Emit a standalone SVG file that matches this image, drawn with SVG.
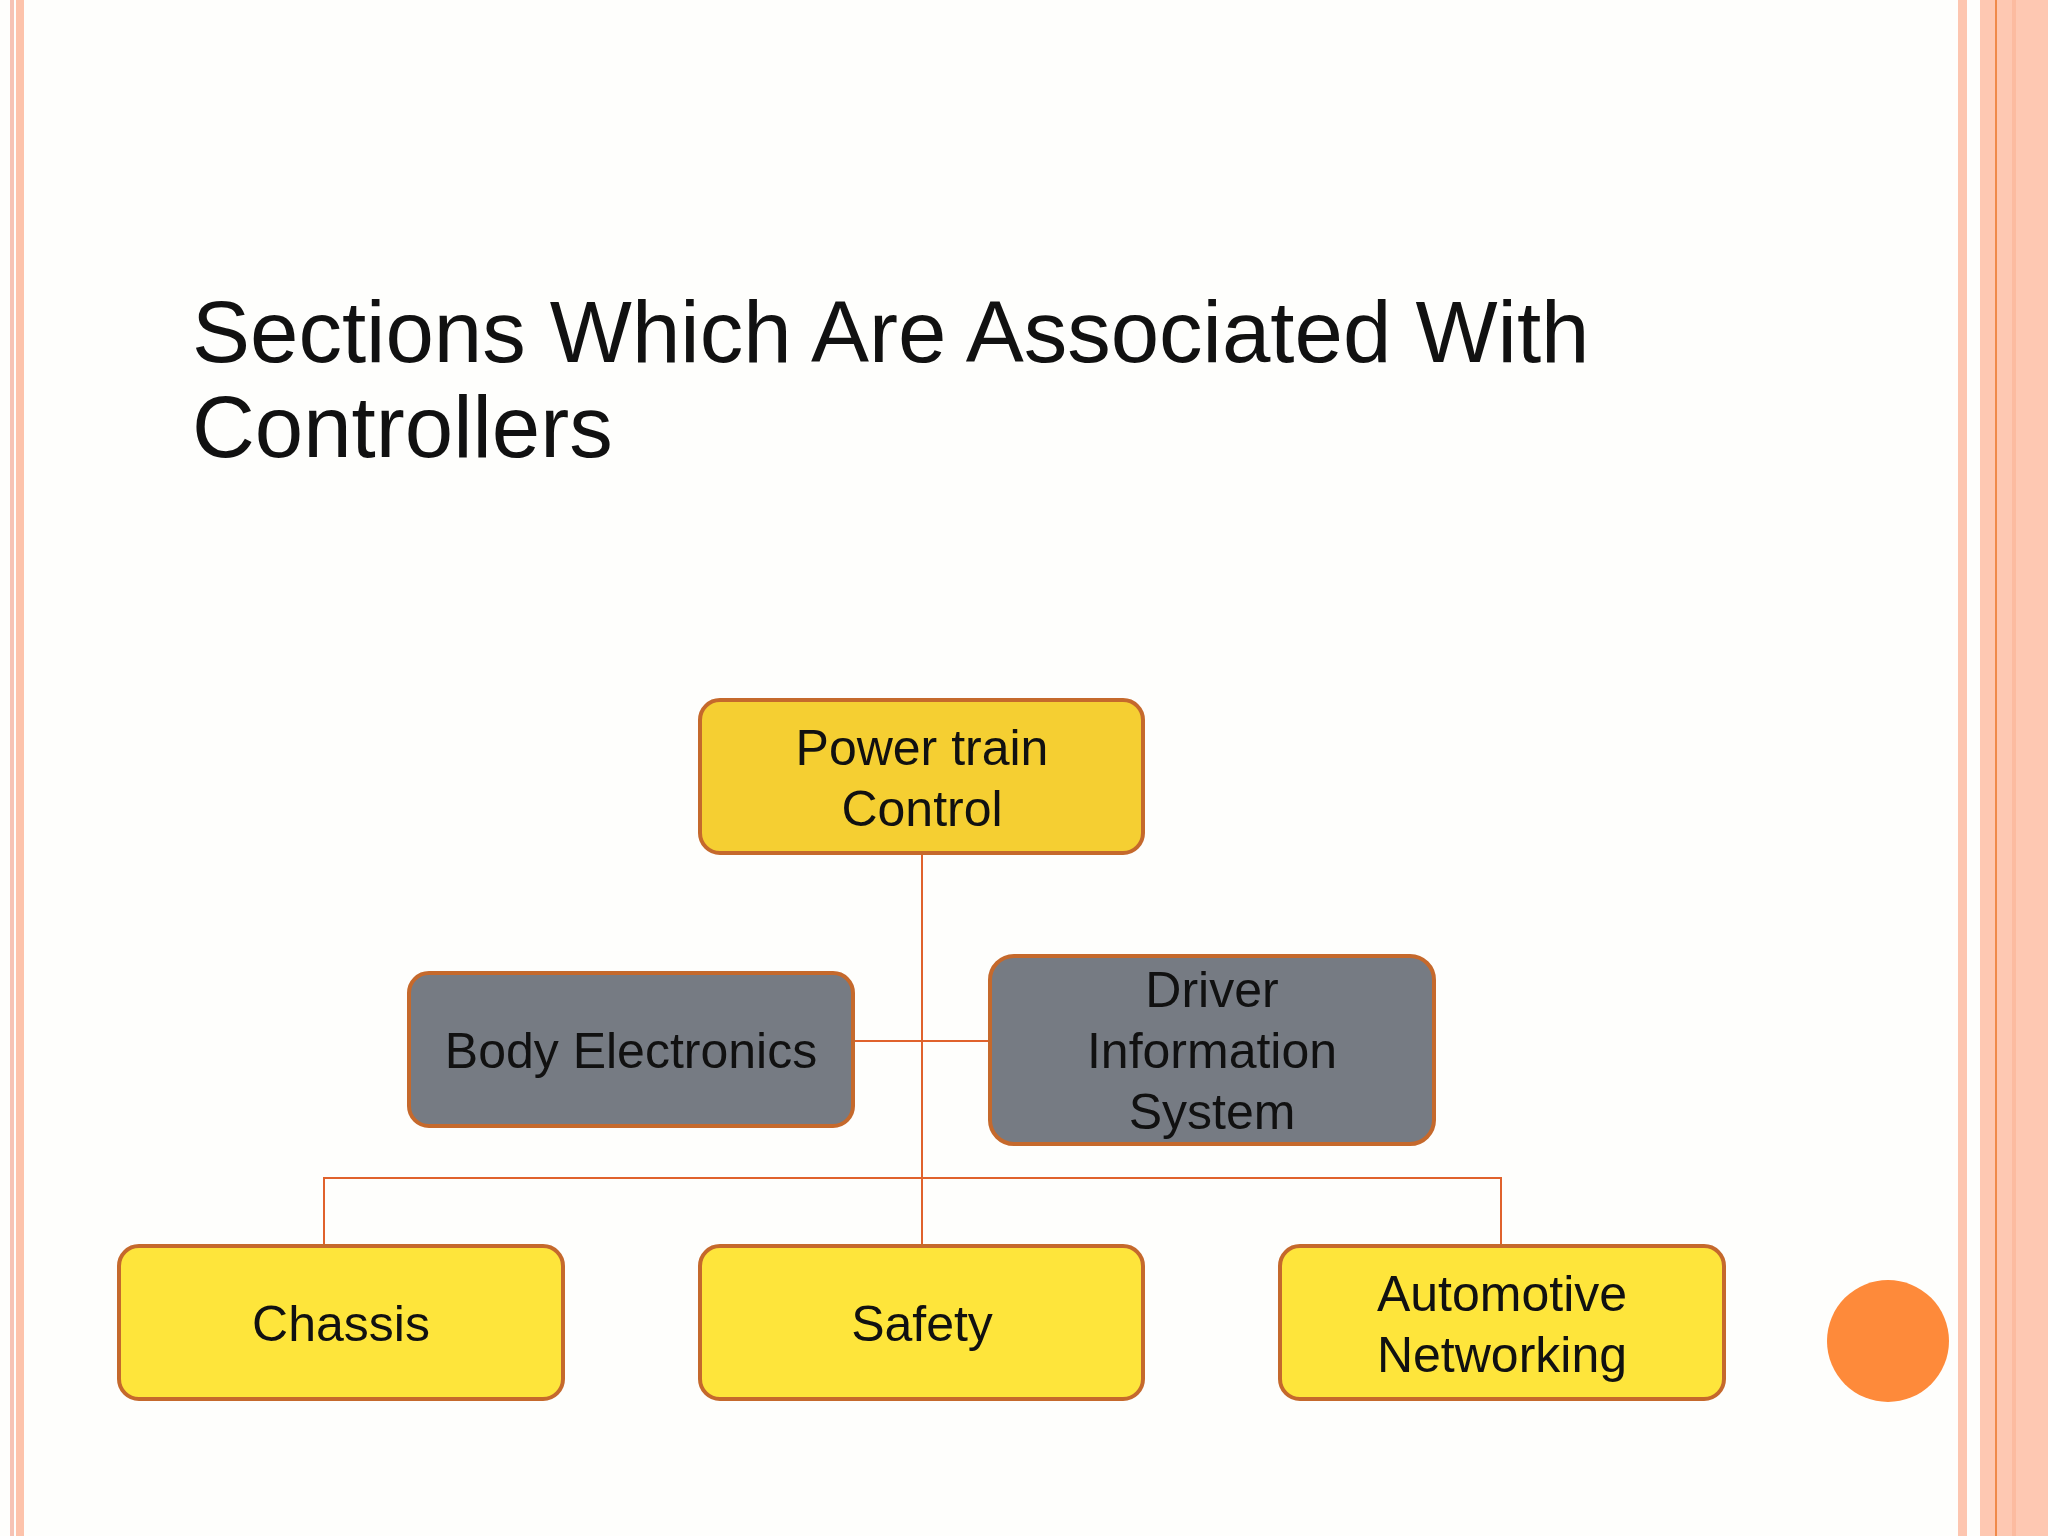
<svg xmlns="http://www.w3.org/2000/svg" width="2048" height="1536" viewBox="0 0 2048 1536">
<style>
.n{stroke:#C5692C;stroke-width:4}
.t{font-family:"Liberation Sans",Arial,sans-serif;font-size:50px;fill:#111;text-anchor:middle}
.c{stroke:#E0622C;stroke-width:2;fill:none}
</style>
<rect width="2048" height="1536" fill="#FEFEFC"/>
<rect x="10" y="0" width="4" height="1536" fill="#F6C3B5"/>
<rect x="16" y="0" width="8" height="1536" fill="#FDC3AB"/>
<rect x="1958" y="0" width="9" height="1536" fill="#FDC6B0"/>
<rect x="1980" y="0" width="68" height="1536" fill="#FEC8B2"/>
<rect x="1995" y="0" width="2" height="1536" fill="#F08A4A"/>
<rect x="2012" y="0" width="4" height="1536" fill="#FCBBA0"/>
<text font-family="Liberation Sans,Arial,sans-serif" font-size="87" fill="#111"><tspan x="192" y="362">Sections Which Are Associated With</tspan><tspan x="192" y="457">Controllers</tspan></text>
<g id="connectors">
<path class="c" d="M922 853V1246M853 1041H990M324 1246V1178H1501V1246"/>
</g>
<g id="power"><rect class="n" x="700" y="700" width="443" height="153" rx="20" fill="#F5CF32"/><text class="t"><tspan x="922" y="765">Power train</tspan><tspan x="922" y="826">Control</tspan></text></g>
<g id="body"><rect class="n" x="409" y="973" width="444" height="153" rx="20" fill="#767B83"/><text class="t" x="631" y="1068">Body Electronics</text></g>
<g id="driver"><rect class="n" x="990" y="956" width="444" height="188" rx="24" fill="#767B83"/><text class="t"><tspan x="1212" y="1007">Driver</tspan><tspan x="1212" y="1068">Information</tspan><tspan x="1212" y="1129">System</tspan></text></g>
<g id="chassis"><rect class="n" x="119" y="1246" width="444" height="153" rx="20" fill="#FEE53B"/><text class="t" x="341" y="1341">Chassis</text></g>
<g id="safety"><rect class="n" x="700" y="1246" width="443" height="153" rx="20" fill="#FEE53B"/><text class="t" x="922" y="1341">Safety</text></g>
<g id="auto"><rect class="n" x="1280" y="1246" width="444" height="153" rx="20" fill="#FEE53B"/><text class="t"><tspan x="1502" y="1311">Automotive</tspan><tspan x="1502" y="1372">Networking</tspan></text></g>
<circle cx="1888" cy="1341" r="61" fill="#FE8A3A"/>
</svg>
